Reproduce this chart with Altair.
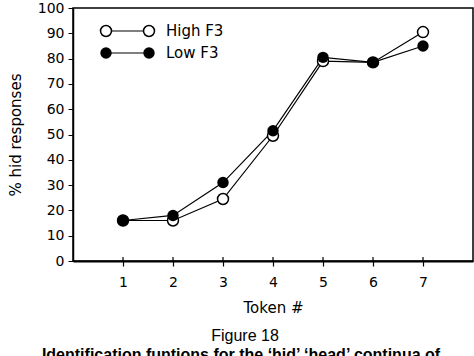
import altair as alt
import pandas as pd

tokens = [1, 2, 3, 4, 5, 6, 7]
high_f3 = [16, 16, 24.5, 49.5, 79, 78.5, 90.5]
low_f3 = [16, 18, 31, 51.5, 80.5, 78.5, 85]
series_names = ["High F3", "Low F3"]
y_ticks = [0, 10, 20, 30, 40, 50, 60, 70, 80, 90, 100]

rows = []
for name, vals in zip(series_names, [high_f3, low_f3]):
    for t, v in zip(tokens, vals):
        rows.append({"token": t, "pct": v, "series": name})
df = pd.DataFrame(rows)
ticks_df = pd.DataFrame({"token": tokens})

FONT = "DejaVu Sans"
W, H = 400, 253

x = alt.X("token:Q", scale=alt.Scale(domain=[0, 8]),
          axis=alt.Axis(values=tokens, title="Token #", grid=False, tickSize=5,
                        labelPadding=9, titlePadding=11, domainWidth=2,
                        domainColor="black", tickColor="black", tickWidth=1.2))
y = alt.Y("pct:Q", scale=alt.Scale(domain=[0, 100]),
          axis=alt.Axis(values=y_ticks, title="% hid responses", grid=False,
                        tickSize=5, labelPadding=4, titlePadding=14,
                        domainColor="black", tickColor="black", domainWidth=1.5))

base = alt.Chart(df)

lines = base.mark_line(color="black", strokeWidth=1.2).encode(
    x=x, y=y, detail="series:N")

pts_high = base.transform_filter(alt.datum.series == "High F3").mark_point(
    shape="circle", size=120, filled=True, fill="white", stroke="black",
    strokeWidth=1.5, opacity=1).encode(x=x, y=y)
pts_low = base.transform_filter(alt.datum.series == "Low F3").mark_point(
    shape="circle", size=130, filled=True, color="black", opacity=1).encode(x=x, y=y)

inner_ticks = alt.Chart(ticks_df).mark_rule(color="black", strokeWidth=1.2).encode(
    x=alt.X("token:Q", scale=alt.Scale(domain=[0, 8])),
    y=alt.value(H - 4), y2=alt.value(H))

leg_df = pd.DataFrame({"label": series_names})
leg = []
for i, name in enumerate(series_names):
    yy = 23 + 22 * i
    d = alt.Chart(leg_df).transform_filter(alt.datum.label == name)
    leg.append(d.mark_rule(color="black", strokeWidth=1.2).encode(
        x=alt.value(33), x2=alt.value(76), y=alt.value(yy)))
    for xx in (33, 76):
        if i == 0:
            leg.append(d.mark_point(shape="circle", size=120, filled=True, fill="white",
                                    stroke="black", strokeWidth=1.5, opacity=1).encode(
                x=alt.value(xx), y=alt.value(yy)))
        else:
            leg.append(d.mark_point(shape="circle", size=130, filled=True, color="black",
                                    opacity=1).encode(x=alt.value(xx), y=alt.value(yy)))
    leg.append(d.mark_text(align="left", baseline="middle", font=FONT, fontSize=15,
                           color="black").encode(
        x=alt.value(93), y=alt.value(yy), text="label:N"))

cap_df = pd.DataFrame({"txt": ["Figure 18",
                               "Identification funtions for the \u2018hid\u2019 \u2018head\u2019 continua of"]})
cap1 = alt.Chart(cap_df).transform_filter(alt.datum.txt == "Figure 18").mark_text(
    font="Liberation Sans", fontSize=16, color="black", align="center",
    baseline="middle").encode(x=alt.value(172), y=alt.value(328), text="txt:N")
cap2 = alt.Chart(cap_df).transform_filter(alt.datum.txt != "Figure 18").mark_text(
    font="Liberation Sans", fontSize=16, fontWeight="bold", color="black",
    align="center", baseline="middle").encode(x=alt.value(168), y=alt.value(347),
                                              text="txt:N")

chart = alt.layer(lines, inner_ticks, pts_high, pts_low, *leg, cap1, cap2).properties(
    width=W, height=H,
    autosize=alt.AutoSizeParams(type="none"),
    padding={"left": 73, "top": 8, "right": 1, "bottom": 95},
    background="white",
).configure_view(stroke="black", strokeWidth=1.5).configure_axis(
    labelFont=FONT, titleFont=FONT, labelFontSize=14, titleFontSize=15,
    labelColor="black", titleColor="black", titleFontWeight="normal",
)

chart.save("out.html", embed_options={"renderer": "svg", "actions": False})
